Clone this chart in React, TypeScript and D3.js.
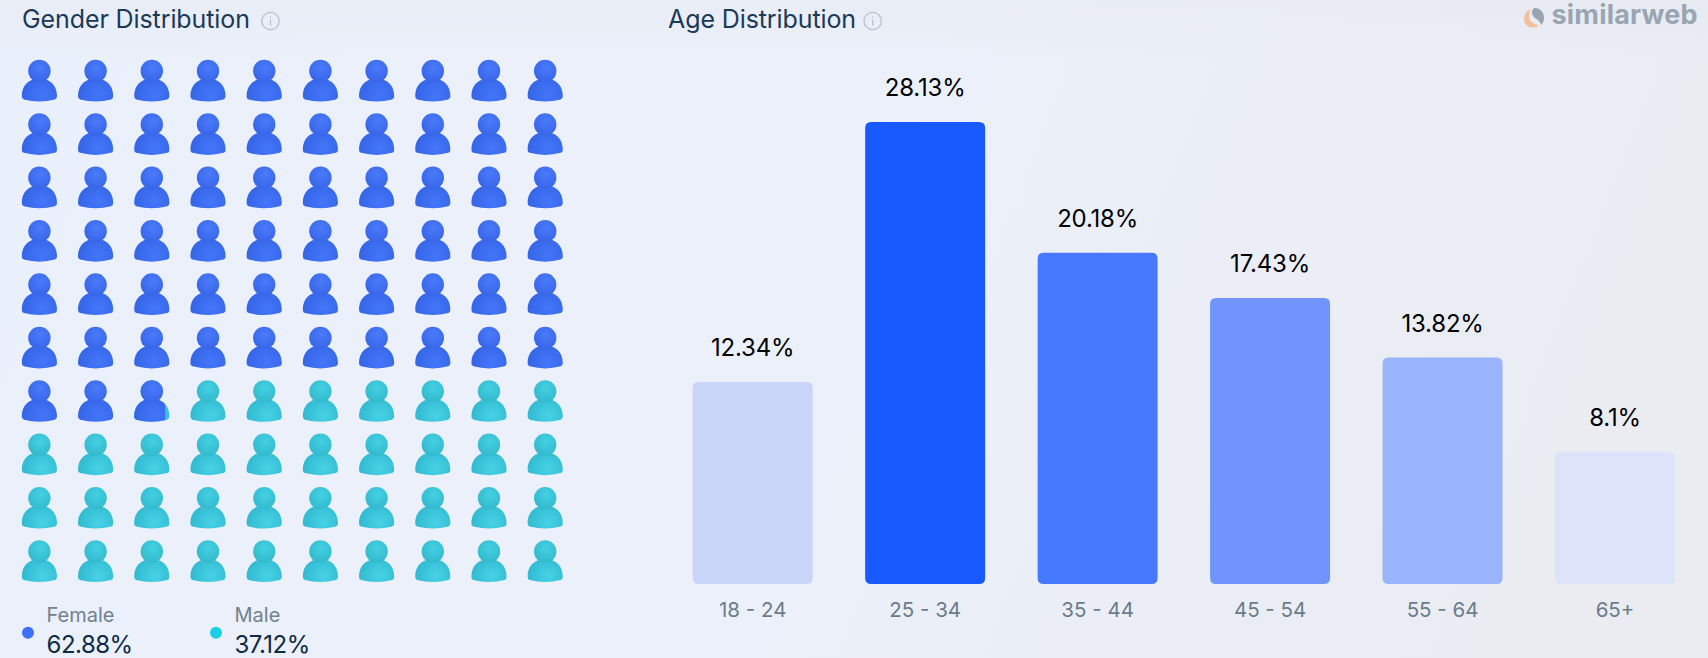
import React from "react";
import * as d3 from "d3";

const ageLabels = ["18 - 24", "25 - 34", "35 - 44", "45 - 54", "55 - 64", "65+"];
const ageValues = [12.34, 28.13, 20.18, 17.43, 13.82, 8.1];
const ageValueText = ["12.34%", "28.13%", "20.18%", "17.43%", "13.82%", "8.1%"];
const ageColors = ["#c9d5f8", "#195afe", "#4779fe", "#7094fb", "#9ab4fb", "#dde3f8"];
const genderNames = ["Female", "Male"];
const genderValues = [62.88, 37.12];
const genderColors = ["#3e6ff7", "#1bcfe4"];
const gridIndex = d3.range(100);

const FONT = "Inter, 'Noto Sans', sans-serif";
const W = 1708, H = 658;
const BASE = 584;

const x = d3.scaleBand<string>().domain(ageLabels).range([692.7, 1675]).paddingInner(52.5 / 172.5).paddingOuter(0);
const y = d3.scaleLinear().domain([0, 28.13]).range([585, 122]);
const col = d3.scaleLinear().domain([0, 9]).range([39.4, 545.2]);
const row = d3.scaleLinear().domain([0, 9]).range([71, 551.5]);
const fill = d3.scaleLinear().domain([0, 1]).range([-17.5, 17.5]).clamp(true);

const BODY = "M-17.6,25 C-17.6,14.5 -10.5,7.5 0,7.5 C10.5,7.5 17.6,14.5 17.6,25 Q17.8,27.6 15.5,28.4 Q0,32.6 -15.5,28.4 Q-17.8,27.6 -17.6,25 Z";

function Person({ kind }: { kind: "f" | "m" }) {
  return (
    <g>
      <path d={BODY} fill={`url(#body-${kind})`} />
      <circle cx={0} cy={0} r={11.2} fill={`url(#head-${kind})`} />
    </g>
  );
}

function Info({ cx, cy }: { cx: number; cy: number }) {
  return (
    <g stroke="#b7c0cc" fill="none">
      <circle cx={cx} cy={cy} r={8.7} strokeWidth={1.3} />
      <line x1={cx} x2={cx} y1={cy - 1.5} y2={cy + 4.5} strokeWidth={1.3} />
      <circle cx={cx} cy={cy - 4} r={0.8} fill="#b7c0cc" stroke="none" />
    </g>
  );
}

function Grad({ id, a, b, radial }: { id: string; a: string; b: string; radial?: boolean }) {
  return radial ? (
    <radialGradient id={id} cx="0.55" cy="0.35" r="0.75">
      <stop offset="0" stopColor={a} />
      <stop offset="1" stopColor={b} />
    </radialGradient>
  ) : (
    <radialGradient id={id} gradientUnits="userSpaceOnUse" cx={3} cy={24} r={22}>
      <stop offset="0" stopColor={a} />
      <stop offset="1" stopColor={b} />
    </radialGradient>
  );
}

export default function App() {
  const female = genderValues[0];
  return (
    <svg width={W} height={H} viewBox={`0 0 ${W} ${H}`} style={{ position: "absolute", left: 0, top: 0, display: "block" }} fontFamily={FONT}>
      <defs>
        <linearGradient id="bg" x1="0" y1="0" x2="1" y2="0.15">
          <stop offset="0" stopColor="#eaf0fb" />
          <stop offset="0.55" stopColor="#ecf0fa" />
          <stop offset="1" stopColor="#eaecf2" />
        </linearGradient>
        <linearGradient id="topfade" x1="0" y1="0" x2="0" y2="1">
          <stop offset="0" stopColor="#e6e9f1" stopOpacity={0.5} />
          <stop offset="1" stopColor="#e6e9f1" stopOpacity={0} />
        </linearGradient>
        <Grad id="head-f" a="#4a7bfa" b="#3562e6" radial />
        <Grad id="body-f" a="#4476fb" b="#3464e4" />
        <Grad id="head-m" a="#45d0e2" b="#2fb6cc" radial />
        <Grad id="body-m" a="#47d2e6" b="#30b8ce" />
        {gridIndex.map((i) => (
          <clipPath id={`clip-${i}`} key={i}>
            <rect x={-20} y={-14} width={fill(Math.max(0, Math.min(1, female - i))) + 20} height={50} />
          </clipPath>
        ))}
      </defs>
      <rect width={W} height={H} fill="url(#bg)" />
      <rect width={W} height={60} fill="url(#topfade)" />

      <text x={22} y={28} fontSize={25} letterSpacing={-0.1} fill="#1b3a57">Gender Distribution</text>
      <Info cx={270.5} cy={21} />
      <text x={668} y={28} fontSize={25} letterSpacing={-0.1} fill="#1b3a57">Age Distribution</text>
      <Info cx={872.7} cy={21} />

      {gridIndex.map((i) => {
        const frac = Math.max(0, Math.min(1, female - i));
        return (
          <g key={i} transform={`translate(${col(i % 10)},${row(Math.floor(i / 10))})`}>
            {frac < 1 && <Person kind="m" />}
            {frac > 0 && (
              <g clipPath={frac < 1 ? `url(#clip-${i})` : undefined}>
                <Person kind="f" />
              </g>
            )}
          </g>
        );
      })}

      {genderNames.map((n, i) => {
        const lx = [28, 216][i];
        return (
          <g key={n}>
            <circle cx={lx} cy={632.7} r={6} fill={genderColors[i]} />
            <text x={lx + 18.5} y={622} fontSize={20} fill="#72818f">{n}</text>
            <text x={lx + 18.5} y={653} fontSize={24} letterSpacing={-0.5} fill="#0f2a44">{genderValues[i].toFixed(2)}%</text>
          </g>
        );
      })}

      {ageLabels.map((a, i) => (
        <g key={a}>
          <path
            d={(() => {
              const l = x(a)!, r = l + x.bandwidth(), t = y(ageValues[i]), b = BASE, c = 6;
              return `M${l},${t + c}Q${l},${t} ${l + c},${t}L${r - c},${t}Q${r},${t} ${r},${t + c}L${r},${b - c}Q${r},${b} ${r - c},${b}L${l + c},${b}Q${l},${b} ${l},${b - c}Z`;
            })()}
            fill={ageColors[i]}
          />
          <text x={x(a)! + x.bandwidth() / 2} y={y(ageValues[i]) - 26} fontSize={24} letterSpacing={-0.2} textAnchor="middle" fill="#000">{ageValueText[i]}</text>
          <text x={x(a)! + x.bandwidth() / 2} y={617} fontSize={20.5} textAnchor="middle" fill="#6b7c8a">{a}</text>
        </g>
      ))}

      <g>
        <path d="M1531,9 C1526,11 1524,15 1524,19 C1524,24 1528,27.5 1533,27.5 C1535.5,27.5 1537,27 1538.5,25.5 C1533,24 1529,21 1529,15.5 C1529,13 1530,11 1531,9Z" fill="#f3c09b" />
        <path d="M1534,8 C1540,7.5 1544,12 1544,18 C1544,21 1543,23 1541,25 C1540.5,21 1537,19.5 1535,18 C1531.5,15.5 1531,11 1534,8Z" fill="#99a5b3" />
        <text x={1551.5} y={24} fontSize={27} fontWeight={700} letterSpacing={0.2} fill="#99a5b3" fontFamily="Inter, sans-serif">similarweb</text>
      </g>
    </svg>
  );
}
